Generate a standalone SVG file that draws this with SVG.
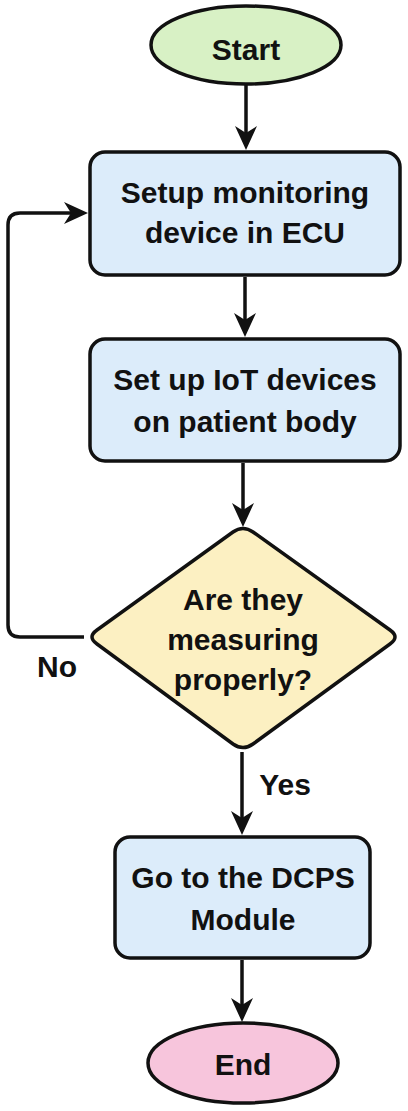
<svg xmlns="http://www.w3.org/2000/svg" width="408" height="1111" viewBox="0 0 408 1111">
<style>
  .node { stroke: #111; stroke-width: 3.5; }
  .term-start { fill: #d8f1c5; }
  .term-end { fill: #f7c5dc; }
  .proc { fill: #dcecfa; }
  .dec { fill: #fcf0c2; }
  .lbl { font-family: "Liberation Sans", Arial, sans-serif; font-weight: bold; font-size: 30px; fill: #111; text-anchor: middle; }
  .edge { fill: none; stroke: #111; stroke-width: 3.5; stroke-linejoin: round; }
</style>
<defs>
  <marker id="arrow" viewBox="-25 -12 26 24" refX="-17" refY="0" markerWidth="26" markerHeight="24" markerUnits="userSpaceOnUse" orient="auto">
    <path d="M0,0 L-24,-11 L-17,0 L-24,11 Z" fill="#111"/>
  </marker>
</defs>
<rect width="408" height="1111" fill="#fff"/>
<g id="connectors">
  <path class="edge" d="M246 84 L246 133" marker-end="url(#arrow)"/>
  <path class="edge" d="M245 277 L245 320" marker-end="url(#arrow)"/>
  <path class="edge" d="M243 463 L243 510" marker-end="url(#arrow)"/>
  <path class="edge" d="M242 752 L242 818" marker-end="url(#arrow)"/>
  <path class="edge" d="M242 960 L242 1005" marker-end="url(#arrow)"/>
  <path class="edge" d="M84 637 L20 637 Q8 637 8 625 L8 225 Q8 213 20 213 L71 213" marker-end="url(#arrow)"/>
  <text class="lbl" x="57" y="677">No</text>
  <text class="lbl" x="285" y="795">Yes</text>
</g>
<g id="start">
  <ellipse class="node term-start" cx="246" cy="45" rx="95" ry="39"/>
  <text class="lbl" x="246" y="60">Start</text>
</g>
<g id="setup-monitoring">
  <rect class="node proc" x="90" y="152" width="310" height="123" rx="15"/>
  <text class="lbl" x="245" y="203">Setup monitoring</text>
  <text class="lbl" x="245" y="243">device in ECU</text>
</g>
<g id="setup-iot">
  <rect class="node proc" x="90" y="339" width="310" height="122" rx="15"/>
  <text class="lbl" x="245" y="390">Set up IoT devices</text>
  <text class="lbl" x="245" y="432">on patient body</text>
</g>
<g id="decision">
  <path class="node dec" d="M253 532 L390 630 Q400 637 390 644 L253 744 Q243 751 233 744 L97 644 Q87 637 97 630 L233 532 Q243 525 253 532 Z"/>
  <text class="lbl" x="243" y="610">Are they</text>
  <text class="lbl" x="243" y="650">measuring</text>
  <text class="lbl" x="243" y="690">properly?</text>
</g>
<g id="dcps">
  <rect class="node proc" x="115" y="837" width="255" height="121" rx="15"/>
  <text class="lbl" x="243" y="888">Go to the DCPS</text>
  <text class="lbl" x="243" y="930">Module</text>
</g>
<g id="end">
  <ellipse class="node term-end" cx="243" cy="1063" rx="95" ry="40"/>
  <text class="lbl" x="243" y="1075">End</text>
</g>
</svg>
